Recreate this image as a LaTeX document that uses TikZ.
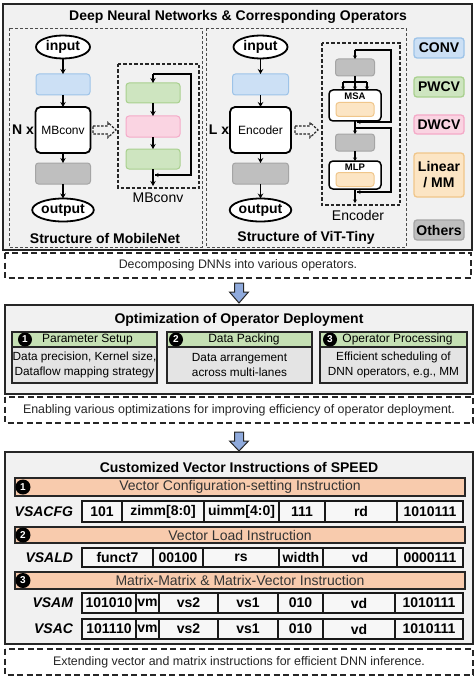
\documentclass[tikz,border=0pt]{standalone}
\usepackage{fontspec}
\setmainfont{Liberation Sans}
\usetikzlibrary{arrows.meta,shapes.geometric}
\definecolor{panelF}{RGB}{241,241,241}
\definecolor{cBlueF}{RGB}{204,224,245}
\definecolor{cBlueD}{RGB}{157,195,232}
\definecolor{cGreenF}{RGB}{206,229,192}
\definecolor{cGreenD}{RGB}{169,208,142}
\definecolor{cPinkF}{RGB}{250,212,226}
\definecolor{cPinkD}{RGB}{244,170,200}
\definecolor{cOrF}{RGB}{252,229,196}
\definecolor{cOrD}{RGB}{240,198,138}
\definecolor{cGrayF}{RGB}{191,191,191}
\definecolor{cGrayD}{RGB}{165,165,165}
\definecolor{barF}{RGB}{248,203,173}
\definecolor{hdrF}{RGB}{197,224,180}
\definecolor{bodyF}{RGB}{228,228,228}
\definecolor{arrF}{RGB}{143,170,220}
\newcommand\fbig{\fontsize{14}{16}\selectfont}
\newcommand\fmid{\fontsize{12}{15}\selectfont}
\newcommand\fcap{\fontsize{12.4}{15}\selectfont}
\newcommand\fbody{\fontsize{11.8}{15}\selectfont}
\newcommand\fsml{\fontsize{9.5}{10}\selectfont}
\begin{document}
\begin{tikzpicture}[x=1pt,y=-1pt,
  every node/.style={inner sep=0pt, outer sep=0pt},
  panel/.style={draw=black!85, line width=1.3pt, fill=panelF},
  dbox/.style={draw=black!70, line width=0.9pt, dash pattern=on 3pt off 2pt},
  dboxb/.style={draw=black!85, line width=1.3pt, dash pattern=on 3.5pt off 2pt},
  capbox/.style={draw=black!85, line width=1.3pt, dash pattern=on 6pt off 3.5pt, fill=white},
  opbox/.style={rounded corners=3pt, line width=1pt},
  conv/.style={opbox, draw=cBlueD, fill=cBlueF},
  pwcv/.style={opbox, draw=cGreenD, fill=cGreenF},
  dwcv/.style={opbox, draw=cPinkD, fill=cPinkF},
  linmm/.style={opbox, draw=cOrD, fill=cOrF},
  other/.style={opbox, draw=cGrayD, fill=cGrayF},
  legend/.style={rounded corners=3pt, line width=1.3pt, font=\fbig\bfseries, align=center, minimum width=50pt},
  blk/.style={draw=black, line width=1.8pt, fill=white, rounded corners=5pt, font=\fmid},
  sblk/.style={draw=black, line width=1.5pt, fill=white, rounded corners=4pt},
  io/.style={ellipse, draw=black, line width=1.8pt, fill=white, font=\fbig\bfseries, minimum width=54pt, minimum height=23pt},
  flow/.style={-{Stealth[length=5pt,width=5.5pt]}, line width=1.3pt},
  sflow/.style={-{Stealth[length=3.5pt,width=4pt]}, line width=1.1pt},
  loopline/.style={line width=1.3pt},
  hollow/.style={draw=black!85, line width=1.2pt, dash pattern=on 2.5pt off 1.5pt},
  blockarrow/.style={draw=black!85, line width=1pt, fill=arrF},
  hdr/.style={draw=black!85, line width=1.1pt, fill=hdrF, minimum width=145pt, minimum height=15pt},
  bdy/.style={draw=black!85, line width=1.1pt, fill=bodyF, minimum width=145pt, minimum height=36pt, font=\fbody, align=center},
  num/.style={circle, fill=black, text=white, font=\fontsize{10}{10}\selectfont\bfseries, minimum size=14pt},
  bar/.style={draw=black!85, line width=1.1pt, fill=barF, minimum width=450pt, font=\fbig, text=black!80},
  cell/.style={draw=black!90, line width=1.3pt, fill=black!3, font=\fbig\bfseries},
  rlab/.style={font=\fbig\bfseries\itshape, anchor=east},
  captxt/.style={font=\fcap, text=black!85}
]
\useasboundingbox (0,0) rectangle (474,682);

% ===== Top panel =====
\draw[panel] (3,4) rectangle (472,250);
\node[font=\fbig\bfseries] (t1) at (238,17) {Deep Neural Networks \& Corresponding Operators};
\draw[dbox] (9,28) rectangle (202,247);
\draw[dbox] (206,28) rectangle (406,247);

% MobileNet column
\node[io] (inL) at (63,47) {input};
\node[conv, minimum width=54pt, minimum height=21pt] (cL) at (63,84.5) {};
\node[blk, minimum width=55pt, minimum height=46pt] (mbL) at (63,130) {MBconv};
\node[other, minimum width=55pt, minimum height=21pt] (gL) at (63,173.5) {};
\node[io] (outL) at (63,210) {output};
\draw[flow] (inL) -- (cL);
\draw[flow] (cL) -- (mbL);
\draw[flow] (mbL) -- (gL);
\draw[flow] (gL) -- (outL);
\node[font=\fbig\bfseries] (nx) at (23,130) {N x};
\node[font=\fbig\bfseries] (s1) at (105,238) {Structure of MobileNet};
\draw[hollow] (93,126) -- (108,126) -- (108,122.5) -- (116,130) -- (108,137.5) -- (108,134) -- (93,134) -- cycle;

% MBconv detail
\draw[dboxb] (118,64) rectangle (199,188);
\node[pwcv, minimum width=54pt, minimum height=20pt] (g1) at (153,93) {};
\node[dwcv, minimum width=54pt, minimum height=21pt] (p1) at (153,126.5) {};
\node[pwcv, minimum width=54pt, minimum height=20pt] (g2) at (153,159) {};
\coordinate (mTop) at (153,74);
\coordinate (mBot) at (153,186);
\coordinate (mRet) at (155,175);
\draw[loopline] (mTop) -- ++(38,0) |- (mRet);
\draw[sflow] (191,175) -- (mRet);
\draw[flow] (mTop) -- (g1);
\draw[flow] (g1) -- (p1);
\draw[flow] (p1) -- (g2);
\draw[flow] (g2) -- (mBot);
\node[font=\fbig] (mbl) at (158,198) {MBconv};

% ViT column
\node[io] (inV) at (260.5,47) {input};
\node[conv, minimum width=56pt, minimum height=21pt] (cV) at (260.5,84.5) {};
\node[blk, minimum width=61pt, minimum height=46pt] (enV) at (260.5,130) {Encoder};
\node[other, minimum width=56pt, minimum height=21pt] (gV) at (260.5,173.5) {};
\node[io] (outV) at (260.5,210) {output};
\draw[flow] (inV) -- (cV);
\draw[flow] (cV) -- (enV);
\draw[flow] (enV) -- (gV);
\draw[flow] (gV) -- (outV);
\node[font=\fbig\bfseries] (lx) at (219,130) {L x};
\node[font=\fbig\bfseries] (s2) at (306,238) {Structure of ViT-Tiny};
\draw[hollow] (295,126) -- (310,126) -- (310,122.5) -- (318,130) -- (310,137.5) -- (310,134) -- (295,134) -- cycle;

% Encoder detail
\draw[dboxb] (322,43) rectangle (400,205);
\node[other, minimum width=39pt, minimum height=17pt] (ga) at (355,67.5) {};
\node[sblk, minimum width=52pt, minimum height=31pt] (msa) at (355,105.5) {};
\node[linmm, minimum width=38pt, minimum height=14pt] (msaIn) at (355,109.5) {};
\node[font=\fsml\bfseries] (msaL) at (355,96.5) {MSA};
\node[other, minimum width=39pt, minimum height=17pt] (gb) at (355,142.5) {};
\node[sblk, minimum width=52pt, minimum height=28pt] (mlp) at (355,175) {};
\node[linmm, minimum width=38pt, minimum height=14pt] (mlpIn) at (355,179.5) {};
\node[font=\fsml\bfseries] (mlpL) at (355,167) {MLP};
\coordinate (eTop) at (355,50);
\coordinate (eRet1) at (357,122);
\coordinate (eMid) at (355,128);
\coordinate (eRet2) at (357,192);
\coordinate (eBot) at (355,203);
\coordinate (br) at (355,82);
\coordinate (brL) at (343,82);
\coordinate (brR) at (367,82);
\draw[loopline] (eTop) -- ++(36,0) |- (eRet1);
\draw[sflow] (391,122) -- (eRet1);
\draw[loopline] (eMid) -- ++(36,0) |- (eRet2);
\draw[sflow] (391,192) -- (eRet2);
\draw[sflow] (eTop) -- (ga);
\draw[line width=1.1pt] (ga) -- (br);
\draw[line width=1.1pt] (brL) -- (brR);
\draw[sflow] (brL) -- (brL |- msa.north);
\draw[sflow] (br) -- (msa);
\draw[sflow] (brR) -- (brR |- msa.north);
\draw[sflow] (msa) -- (gb);
\draw[sflow] (gb) -- (mlp);
\draw[sflow] (mlp) -- (eBot);
\node[font=\fbig] (enl) at (358,215) {Encoder};

% Legend
\node[legend, draw=cBlueD, fill=cBlueF, minimum height=20pt] (lg1) at (439,48) {CONV};
\node[legend, draw=cGreenD, fill=cGreenF, minimum height=20pt] (lg2) at (439,87) {PWCV};
\node[legend, draw=cPinkD, fill=cPinkF, minimum height=19pt] (lg3) at (439,124.5) {DWCV};
\node[legend, draw=cOrD, fill=cOrF, minimum height=44pt] (lg4) at (439,175) {Linear\\/ MM};
\node[legend, draw=cGrayD, fill=cGrayF, minimum height=20pt] (lg5) at (439,230) {Others};

% Caption 1
\draw[capbox] (5,253) rectangle (471,278);
\node[captxt] (c1) at (238,265.5) {Decomposing DNNs into various operators.};
\draw[blockarrow] (234.5,283) -- (243.5,283) -- (243.5,292) -- (248.5,292) -- (239,303) -- (229.5,292) -- (234.5,292) -- cycle;

% ===== Optimization panel =====
\draw[panel] (5,305) rectangle (473,394);
\node[font=\fbig\bfseries] (t2) at (239,320) {Optimization of Operator Deployment};
\node[hdr] (h1) at (84.5,339.5) {};
\node[bdy] (b1) at (84.5,365) {Data precision, Kernel size,\\Dataflow mapping strategy};
\node[font=\fmid] at (87.5,339.5) {Parameter Setup};
\node[num] (n1) at (25,339.5) {1};
\node[hdr] (h2) at (239.5,339.5) {};
\node[bdy] (b2) at (239.5,365) {Data arrangement\\across multi-lanes};
\node[font=\fmid] at (244,339.5) {Data Packing};
\node[num] (n2) at (176,339.5) {2};
\node[hdr, minimum width=147pt] (h3) at (393.5,339.5) {};
\node[bdy, minimum width=147pt] (b3) at (393.5,365) {Efficient scheduling of\\DNN operators, e.g., MM};
\node[font=\fmid] at (397.5,339.5) {Operator Processing};
\node[num] (n3) at (330,339.5) {3};

% Caption 2
\draw[capbox] (5,397) rectangle (473,423);
\node[captxt] (c2) at (239,410) {Enabling various optimizations for improving efficiency of operator deployment.};
\draw[blockarrow] (234.5,432) -- (243.5,432) -- (243.5,441) -- (248.5,441) -- (239,451) -- (229.5,441) -- (234.5,441) -- cycle;

% ===== Custom instructions panel =====
\draw[panel] (5,452) rectangle (473,644);
\node[font=\fbig\bfseries] (t3) at (239,467) {Customized Vector Instructions of SPEED};

\node[bar, minimum height=18pt] (bar1) at (240,487) {Vector Configuration-setting Instruction};
\node[num, minimum size=15pt] (k1) at (23,487) {1};
\node[rlab] (l1) at (73,511.5) {VSACFG};
\foreach \a/\b/\t [count=\i] in {82/122/101, 122/204/{zimm[8:0]}, 204/279/{uimm[4:0]}, 279/325/111, 325/397/rd, 397/463/1010111}{
  \pgfmathsetmacro\cw{\b-\a}
  \pgfmathsetmacro\cx{(\a+\b)/2}
  \node[cell, minimum width=\cw pt, minimum height=21pt] (ra\i) at (\cx,511.5) {\t};
}

\node[bar, minimum height=16pt] (bar2) at (240,535) {Vector Load Instruction};
\node[num, minimum size=15pt] (k2) at (23,535) {2};
\node[rlab] (l2) at (73,557.5) {VSALD};
\foreach \a/\b/\t [count=\i] in {82/153/funct7, 153/203/00100, 203/279/rs, 279/323/width, 323/397/vd, 397/463/0000111}{
  \pgfmathsetmacro\cw{\b-\a}
  \pgfmathsetmacro\cx{(\a+\b)/2}
  \node[cell, minimum width=\cw pt, minimum height=19pt] (rb\i) at (\cx,557.5) {\t};
}

\node[bar, minimum height=17pt] (bar3) at (240,580.5) {Matrix-Matrix \& Matrix-Vector Instruction};
\node[num, minimum size=15pt] (k3) at (23,580.5) {3};
\node[rlab] (l3) at (73,603) {VSAM};
\foreach \a/\b/\t [count=\i] in {82/136/101010, 136/159/vm, 159/218/vs2, 218/278/vs1, 278/323/010, 323/395/vd, 395/463/1010111}{
  \pgfmathsetmacro\cw{\b-\a}
  \pgfmathsetmacro\cx{(\a+\b)/2}
  \node[cell, minimum width=\cw pt, minimum height=20pt] (rc\i) at (\cx,603) {\t};
}
\node[rlab] (l4) at (73,629) {VSAC};
\foreach \a/\b/\t [count=\i] in {82/136/101110, 136/159/vm, 159/218/vs2, 218/278/vs1, 278/323/010, 323/395/vd, 395/463/1010111}{
  \pgfmathsetmacro\cw{\b-\a}
  \pgfmathsetmacro\cx{(\a+\b)/2}
  \node[cell, minimum width=\cw pt, minimum height=20pt] (rd\i) at (\cx,629) {\t};
}

% Caption 3
\draw[capbox] (5,649) rectangle (473,675);
\node[captxt] (c3) at (239,662) {Extending vector and matrix instructions for efficient DNN inference.};
\end{tikzpicture}
\end{document}
